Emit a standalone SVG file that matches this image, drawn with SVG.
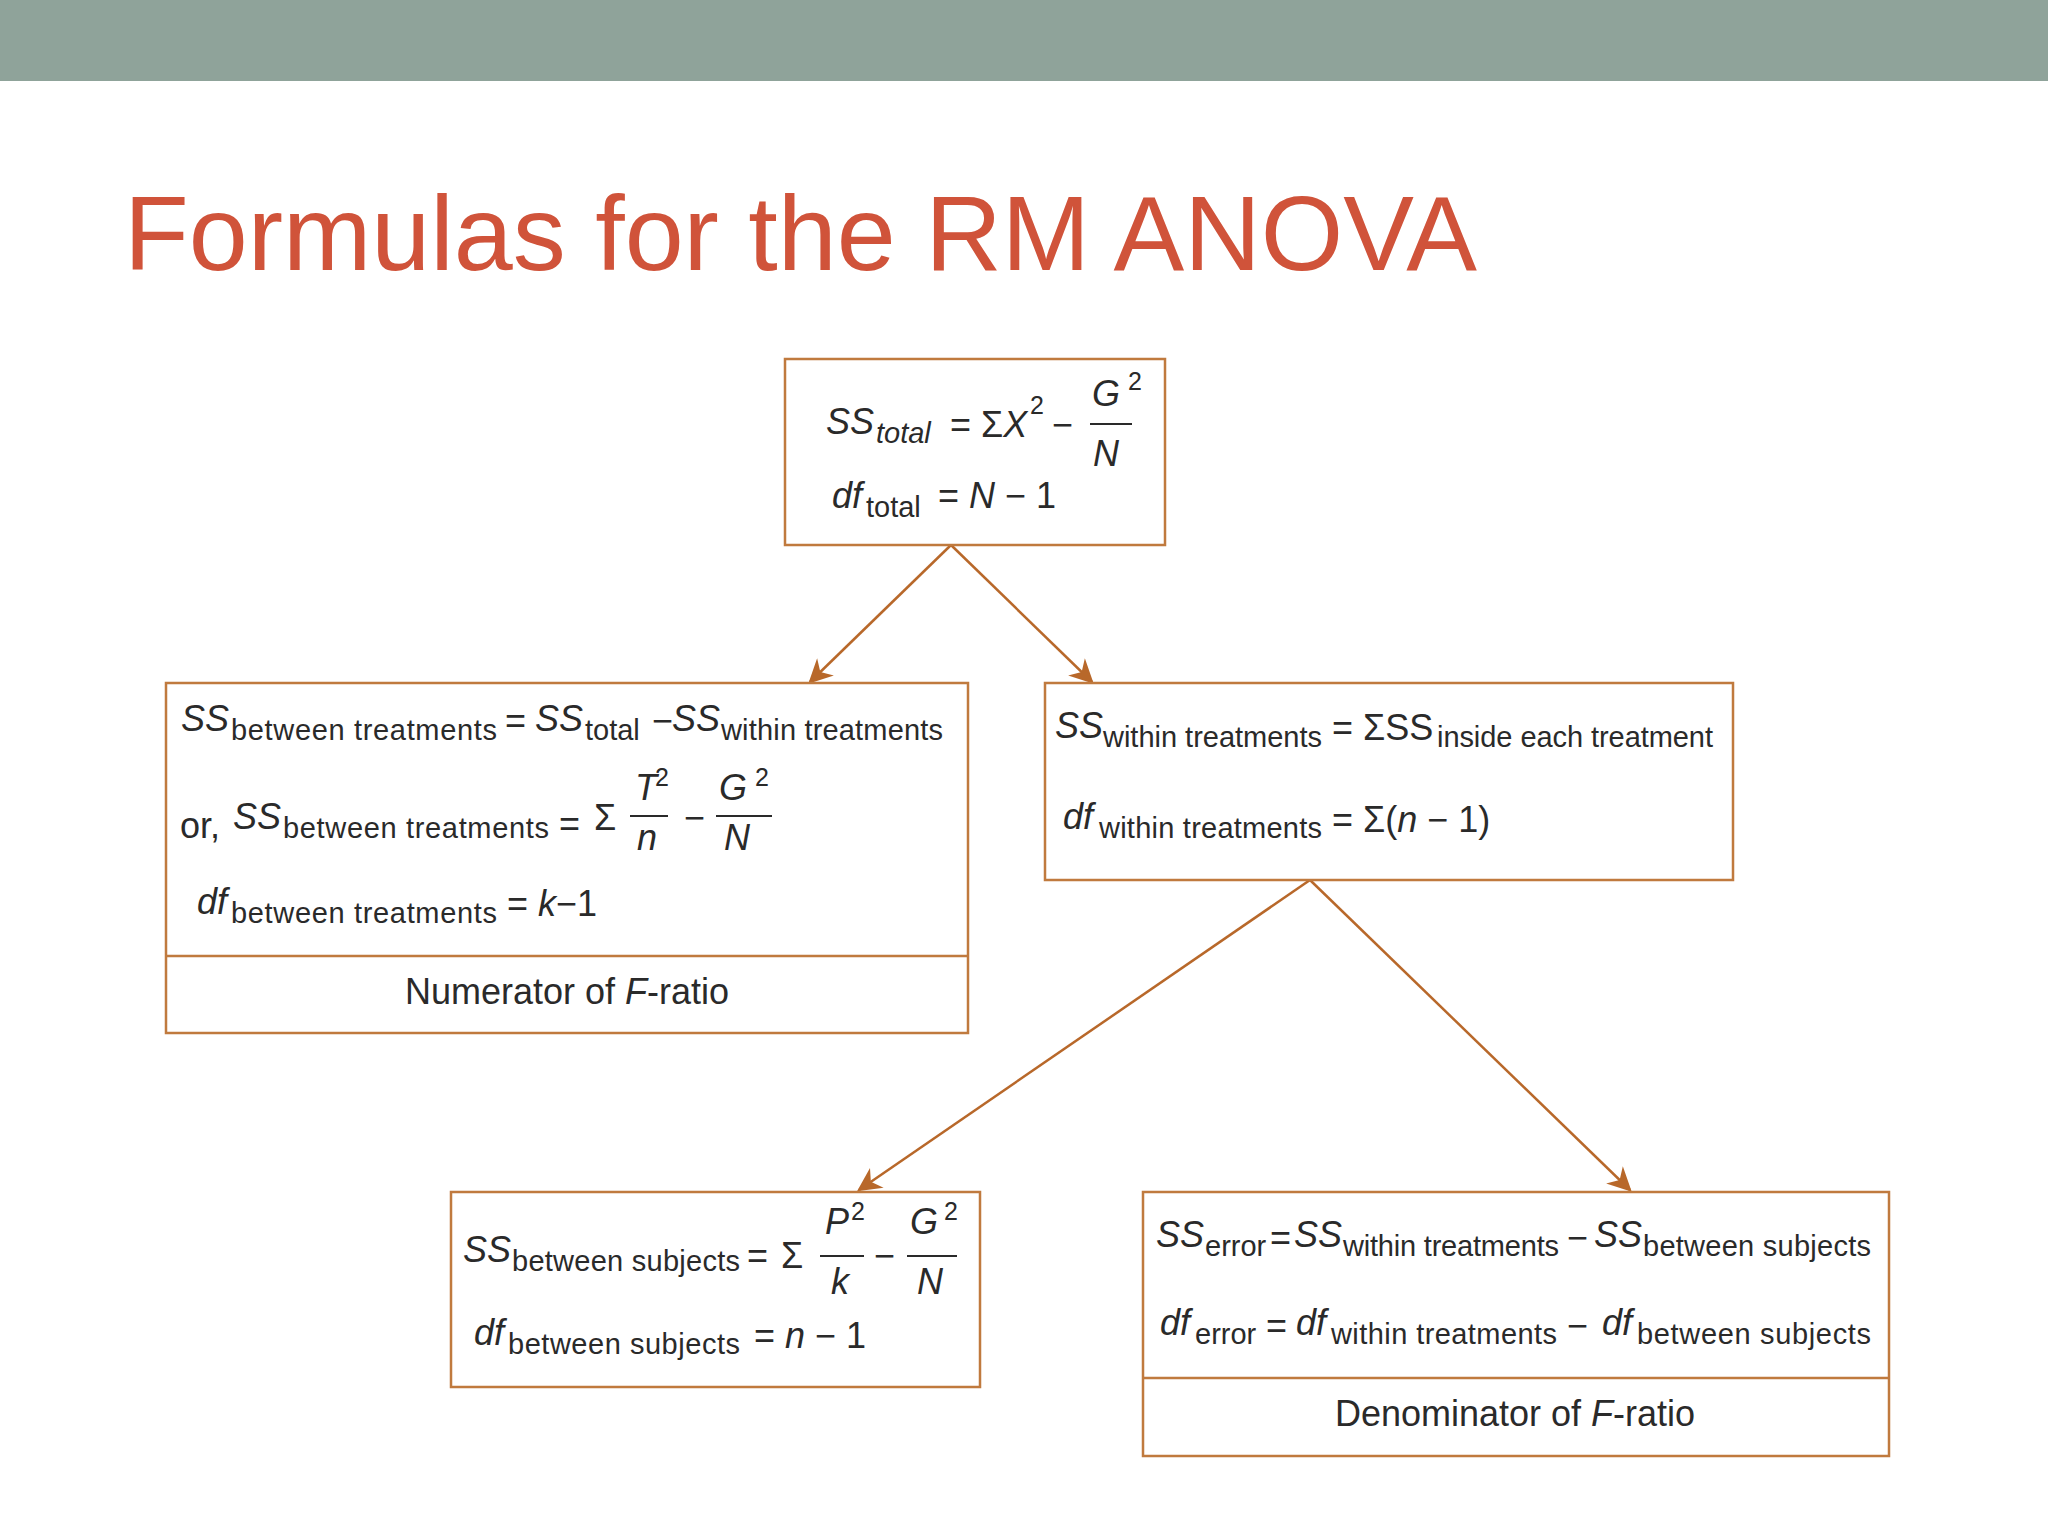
<svg xmlns="http://www.w3.org/2000/svg" width="2048" height="1536" viewBox="0 0 2048 1536">
<style>
text{font-family:"Liberation Sans",Arial,sans-serif;fill:#2a2a2a}
.m{font-size:36px}
.i{font-style:italic}
.s{font-size:29px}
.x{font-size:25px}
.t{font-size:36px}
.box{fill:#fff;stroke:#c07a3e;stroke-width:2.5}
.fr{stroke:#2a2a2a;stroke-width:2}
.c{stroke:#b8682a;stroke-width:2.5;fill:none}
</style>
<defs>
<marker id="ah2" viewBox="0 0 10 10" refX="9" refY="5" markerWidth="30" markerHeight="24" orient="auto" markerUnits="userSpaceOnUse"><path d="M0,0 L10,5 L0,10 L3,5 z" fill="#b8682a"/></marker>
</defs>
<rect width="2048" height="1536" fill="#fff"/>
<rect width="2048" height="81" fill="#8fa39a"/>
<text x="124" y="270" style="font-size:106px;fill:#d0533a">Formulas for the RM ANOVA</text>

<g id="connectors">
<line x1="951" y1="545" x2="810" y2="682" class="c" marker-end="url(#ah2)"/>
<line x1="951" y1="545" x2="1092" y2="682" class="c" marker-end="url(#ah2)"/>
<line x1="1310" y1="880" x2="859" y2="1190" class="c" marker-end="url(#ah2)"/>
<line x1="1310" y1="880" x2="1630" y2="1190" class="c" marker-end="url(#ah2)"/>
</g>

<g id="total">
<rect class="box" x="785" y="359" width="380" height="186"/>
<text class="m i" x="826" y="434">SS</text><text class="s i" x="876" y="443">total</text>
<text class="m" x="950" y="437">= Σ<tspan class="i">X</tspan></text><text class="x" x="1030" y="414">2</text>
<text class="m" x="1052" y="437">−</text>
<text class="m i" x="1092" y="406">G</text><text class="x" x="1128" y="390">2</text>
<line class="fr" x1="1090" y1="424" x2="1132" y2="424"/>
<text class="m i" x="1093" y="466">N</text>
<text class="m i" x="832" y="508">df</text><text class="s" x="866" y="517">total</text>
<text class="m" x="938" y="508">= <tspan class="i">N</tspan> − 1</text>
</g>

<g id="between">
<rect class="box" x="166" y="683" width="802" height="350"/>
<line x1="166" y1="956" x2="968" y2="956" stroke="#c07a3e" stroke-width="2.5"/>
<text class="m i" x="181" y="731">SS</text><text class="s" x="231" y="740" textLength="266">between treatments</text>
<text class="m" x="505" y="733">=</text><text class="m i" x="535" y="731">SS</text><text class="s" x="585" y="740">total</text>
<text class="m" x="652" y="733">−</text><text class="m i" x="672" y="731">SS</text><text class="s" x="721" y="740" textLength="222">within treatments</text>
<text class="m" x="180" y="838">or,</text>
<text class="m i" x="233" y="829">SS</text><text class="s" x="283" y="838" textLength="266">between treatments</text>
<text class="m" x="559" y="836">=</text><text class="m" x="594" y="830">Σ</text>
<text class="m i" x="635" y="800">T</text><text class="x" x="655" y="786">2</text>
<line class="fr" x1="630" y1="816" x2="668" y2="816"/>
<text class="m i" x="637" y="850">n</text>
<text class="m" x="684" y="830">−</text>
<text class="m i" x="719" y="800">G</text><text class="x" x="755" y="786">2</text>
<line class="fr" x1="716" y1="816" x2="772" y2="816"/>
<text class="m i" x="724" y="850">N</text>
<text class="m i" x="197" y="914">df</text><text class="s" x="231" y="923" textLength="266">between treatments</text>
<text class="m" x="507" y="916">= <tspan class="i">k</tspan>−1</text>
<text class="t" x="567" y="1004" text-anchor="middle">Numerator of <tspan class="i">F</tspan>-ratio</text>
</g>

<g id="within">
<rect class="box" x="1045" y="683" width="688" height="197"/>
<text class="m i" x="1055" y="738">SS</text><text class="s" x="1103" y="747" textLength="219">within treatments</text>
<text class="m" x="1332" y="740">= ΣSS</text><text class="s" x="1437" y="747" textLength="276">inside each treatment</text>
<text class="m i" x="1063" y="829">df</text><text class="s" x="1099" y="838" textLength="223">within treatments</text>
<text class="m" x="1332" y="832">= Σ(<tspan class="i">n</tspan> − 1)</text>
</g>

<g id="subjects">
<rect class="box" x="451" y="1192" width="529" height="195"/>
<text class="m i" x="463" y="1262">SS</text><text class="s" x="512" y="1271" textLength="228">between subjects</text>
<text class="m" x="747" y="1268">=</text><text class="m" x="781" y="1268">Σ</text>
<text class="m i" x="825" y="1234">P</text><text class="x" x="851" y="1220">2</text>
<line class="fr" x1="820" y1="1256" x2="864" y2="1256"/>
<text class="m i" x="831" y="1294">k</text>
<text class="m" x="874" y="1268">−</text>
<text class="m i" x="910" y="1234">G</text><text class="x" x="944" y="1220">2</text>
<line class="fr" x1="907" y1="1256" x2="957" y2="1256"/>
<text class="m i" x="917" y="1294">N</text>
<text class="m i" x="474" y="1345">df</text><text class="s" x="508" y="1354" textLength="232">between subjects</text>
<text class="m" x="754" y="1348">= <tspan class="i">n</tspan> − 1</text>
</g>

<g id="error">
<rect class="box" x="1143" y="1192" width="746" height="264"/>
<line x1="1143" y1="1378" x2="1889" y2="1378" stroke="#c07a3e" stroke-width="2.5"/>
<text class="m i" x="1156" y="1247">SS</text><text class="s" x="1205" y="1256">error</text>
<text class="m" x="1270" y="1250">=</text><text class="m i" x="1294" y="1247">SS</text><text class="s" x="1343" y="1256" textLength="216">within treatments</text>
<text class="m" x="1567" y="1250">−</text><text class="m i" x="1594" y="1247">SS</text><text class="s" x="1643" y="1256" textLength="228">between subjects</text>
<text class="m i" x="1160" y="1335">df</text><text class="s" x="1195" y="1344">error</text>
<text class="m" x="1266" y="1338">=</text><text class="m i" x="1296" y="1335">df</text><text class="s" x="1331" y="1344" textLength="226">within treatments</text>
<text class="m" x="1567" y="1338">−</text><text class="m i" x="1602" y="1335">df</text><text class="s" x="1637" y="1344" textLength="234">between subjects</text>
<text class="t" x="1515" y="1426" text-anchor="middle">Denominator of <tspan class="i">F</tspan>-ratio</text>
</g>
</svg>
